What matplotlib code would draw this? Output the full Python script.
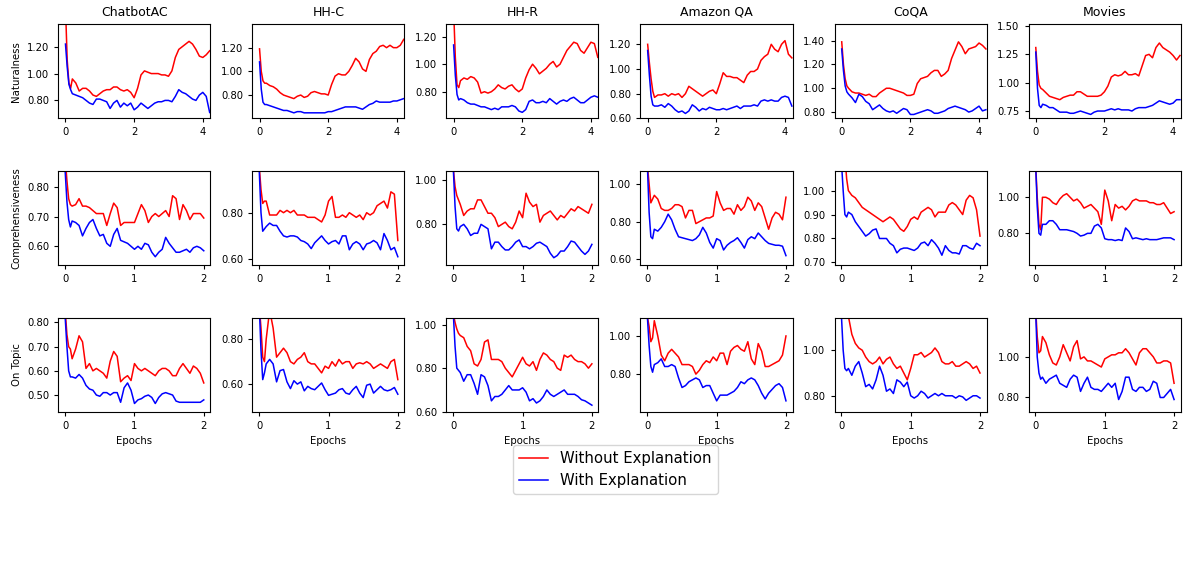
import matplotlib
matplotlib.use("Agg")
import matplotlib.pyplot as plt
from matplotlib.ticker import FormatStrFormatter

DATASETS = ["ChatbotAC", "HH-C", "HH-R", "Amazon QA", "CoQA", "Movies"]
METRICS = ["Naturalness", "Comprehensiveness", "On Topic"]

# epoch grid for the naturalness row (runs over ~4.2 epochs)
EPOCHS_LONG = [0, 0.05, 0.1, 0.15,
               0.2, 0.3, 0.4, 0.5, 0.6, 0.7, 0.8, 0.9, 1.0, 1.1,
               1.2, 1.3, 1.4, 1.5, 1.6, 1.7, 1.8, 1.9, 2.0, 2.1,
               2.2, 2.3, 2.4, 2.5, 2.6, 2.7, 2.8, 2.9, 3.0, 3.1,
               3.2, 3.3, 3.4, 3.5, 3.6, 3.7, 3.8, 3.9, 4.0, 4.1, 4.2]

# epoch grid for the other two rows (2 epochs)
EPOCHS_SHORT = [0, 0.025, 0.05, 0.075, 0.1,
                0.15, 0.2, 0.25, 0.3, 0.35, 0.4, 0.45, 0.5, 0.55, 0.6,
                0.65, 0.7, 0.75, 0.8, 0.85, 0.9, 0.95, 1.0, 1.05, 1.1,
                1.15, 1.2, 1.25, 1.3, 1.35, 1.4, 1.45, 1.5, 1.55, 1.6,
                1.65, 1.7, 1.75, 1.8, 1.85, 1.9, 1.95, 2.0]

# ---- Naturalness: without (wo) / with (w) explanation ----
nat_chatbot_wo = [1.50, 1.10, 0.93, 0.89,
                  0.96, 0.93, 0.87, 0.89, 0.89, 0.87, 0.84, 0.83, 0.85, 0.87,
                  0.88, 0.88, 0.90, 0.90, 0.88, 0.87, 0.88, 0.86, 0.82, 0.89,
                  0.99, 1.02, 1.01, 1.00, 1.00, 1.00, 0.99, 0.99, 0.98, 1.02,
                  1.12, 1.18, 1.20, 1.22, 1.24, 1.22, 1.18, 1.13, 1.12, 1.14, 1.17]
nat_chatbot_w = [1.22, 1.05, 0.92, 0.88,
                 0.85, 0.84, 0.83, 0.82, 0.80, 0.78, 0.77, 0.81, 0.81, 0.80,
                 0.79, 0.74, 0.78, 0.80, 0.75, 0.78, 0.76, 0.78, 0.73, 0.75,
                 0.78, 0.76, 0.74, 0.76, 0.78, 0.79, 0.79, 0.80, 0.80, 0.79,
                 0.83, 0.88, 0.86, 0.85, 0.83, 0.81, 0.80, 0.84, 0.86, 0.83, 0.71]
nat_hhc_wo = [1.19, 1.00, 0.92, 0.90,
              0.90, 0.88, 0.87, 0.85, 0.82, 0.80, 0.79, 0.78, 0.77, 0.79,
              0.80, 0.78, 0.79, 0.82, 0.83, 0.82, 0.81, 0.81, 0.80, 0.89,
              0.96, 0.98, 0.97, 0.97, 1.00, 1.05, 1.11, 1.08, 1.02, 1.00,
              1.10, 1.15, 1.17, 1.21, 1.22, 1.20, 1.22, 1.20, 1.20, 1.22, 1.27]
nat_hhc_w = [1.08, 0.85, 0.74, 0.72,
             0.72, 0.71, 0.70, 0.69, 0.68, 0.67, 0.67, 0.66, 0.65, 0.66,
             0.66, 0.65, 0.65, 0.65, 0.65, 0.65, 0.65, 0.65, 0.66, 0.66,
             0.67, 0.68, 0.69, 0.70, 0.70, 0.70, 0.70, 0.69, 0.68, 0.70,
             0.72, 0.73, 0.75, 0.74, 0.74, 0.74, 0.74, 0.75, 0.75, 0.76, 0.77]
nat_hhr_wo = [1.40, 1.05, 0.85, 0.83,
              0.88, 0.90, 0.89, 0.91, 0.90, 0.87, 0.79, 0.80, 0.79, 0.80,
              0.82, 0.85, 0.83, 0.82, 0.84, 0.85, 0.82, 0.80, 0.82, 0.90,
              0.96, 1.00, 0.97, 0.93, 0.95, 0.97, 1.00, 1.02, 0.98, 1.00,
              1.05, 1.10, 1.13, 1.16, 1.15, 1.10, 1.08, 1.12, 1.16, 1.15, 1.05]
nat_hhr_w = [1.14, 0.92, 0.78, 0.74,
             0.75, 0.74, 0.72, 0.71, 0.71, 0.70, 0.69, 0.69, 0.68, 0.67,
             0.68, 0.67, 0.69, 0.69, 0.69, 0.70, 0.69, 0.66, 0.65, 0.67,
             0.73, 0.74, 0.72, 0.72, 0.73, 0.72, 0.75, 0.73, 0.71, 0.73,
             0.74, 0.73, 0.75, 0.76, 0.74, 0.72, 0.72, 0.74, 0.76, 0.77, 0.76]
nat_amazon_wo = [1.20, 1.05, 0.92, 0.82,
                 0.77, 0.79, 0.79, 0.80, 0.78, 0.80, 0.79, 0.80, 0.77, 0.80,
                 0.86, 0.84, 0.82, 0.80, 0.78, 0.80, 0.82, 0.83, 0.80, 0.88,
                 0.97, 0.94, 0.94, 0.93, 0.93, 0.91, 0.89, 0.95, 0.98, 0.98,
                 1.00, 1.07, 1.10, 1.12, 1.20, 1.16, 1.14, 1.20, 1.23, 1.12, 1.09]
nat_amazon_w = [1.15, 0.95, 0.78, 0.71,
                0.70, 0.70, 0.71, 0.69, 0.72, 0.70, 0.67, 0.65, 0.66, 0.64,
                0.66, 0.71, 0.69, 0.66, 0.68, 0.67, 0.69, 0.68, 0.67, 0.67,
                0.68, 0.67, 0.68, 0.69, 0.70, 0.68, 0.70, 0.70, 0.70, 0.71,
                0.70, 0.74, 0.75, 0.74, 0.75, 0.74, 0.74, 0.77, 0.78, 0.77, 0.70]
nat_coqa_wo = [1.39, 1.20, 1.08, 1.02,
               1.00, 0.97, 0.96, 0.96, 0.95, 0.94, 0.95, 0.93, 0.93, 0.96,
               0.98, 1.00, 1.00, 0.99, 0.98, 0.97, 0.96, 0.94, 0.94, 0.95,
               1.04, 1.08, 1.09, 1.10, 1.13, 1.15, 1.15, 1.10, 1.12, 1.15,
               1.25, 1.32, 1.39, 1.35, 1.29, 1.33, 1.34, 1.35, 1.38, 1.36, 1.33]
nat_coqa_w = [1.33, 1.15, 1.02, 0.97,
              0.95, 0.92, 0.88, 0.95, 0.93, 0.89, 0.87, 0.82, 0.84, 0.86,
              0.83, 0.81, 0.80, 0.81, 0.79, 0.81, 0.83, 0.82, 0.78, 0.78,
              0.79, 0.80, 0.81, 0.82, 0.81, 0.79, 0.79, 0.80, 0.81, 0.83,
              0.84, 0.85, 0.84, 0.83, 0.82, 0.80, 0.81, 0.83, 0.85, 0.81, 0.82]
nat_movies_wo = [1.31, 1.10, 0.98, 0.95,
                 0.94, 0.91, 0.88, 0.87, 0.86, 0.85, 0.87, 0.88, 0.89, 0.89,
                 0.92, 0.92, 0.90, 0.88, 0.88, 0.88, 0.88, 0.89, 0.92, 0.97,
                 1.05, 1.07, 1.06, 1.07, 1.10, 1.07, 1.07, 1.08, 1.06, 1.15,
                 1.24, 1.25, 1.22, 1.31, 1.35, 1.31, 1.29, 1.27, 1.24, 1.20, 1.24]
nat_movies_w = [1.27, 0.95, 0.80, 0.78,
                0.81, 0.80, 0.78, 0.78, 0.76, 0.74, 0.74, 0.74, 0.73, 0.73,
                0.74, 0.75, 0.74, 0.73, 0.72, 0.74, 0.75, 0.75, 0.75, 0.76,
                0.77, 0.76, 0.77, 0.76, 0.76, 0.76, 0.75, 0.77, 0.78, 0.78,
                0.78, 0.79, 0.80, 0.82, 0.84, 0.83, 0.82, 0.81, 0.82, 0.85, 0.85]

# ---- Comprehensiveness ----
comp_chatbot_wo = [0.90, 0.82, 0.76, 0.74, 0.735,
                   0.74, 0.76, 0.735, 0.735, 0.73, 0.72, 0.71, 0.71, 0.71, 0.67,
                   0.71, 0.745, 0.73, 0.67, 0.68, 0.68, 0.68, 0.68, 0.71, 0.74,
                   0.72, 0.68, 0.70, 0.71, 0.70, 0.71, 0.72, 0.70, 0.77, 0.76,
                   0.69, 0.74, 0.72, 0.69, 0.71, 0.71, 0.71, 0.695]
comp_chatbot_w = [0.85, 0.75, 0.69, 0.665, 0.685,
                  0.68, 0.67, 0.635, 0.66, 0.68, 0.69, 0.66, 0.635, 0.64, 0.61,
                  0.60, 0.64, 0.66, 0.62, 0.615, 0.61, 0.60, 0.59, 0.60, 0.59,
                  0.61, 0.605, 0.58, 0.565, 0.58, 0.59, 0.63, 0.61, 0.595, 0.58,
                  0.58, 0.585, 0.59, 0.58, 0.595, 0.60, 0.595, 0.585]
comp_hhc_wo = [1.00, 0.90, 0.84, 0.85, 0.85,
               0.79, 0.79, 0.79, 0.81, 0.80, 0.81, 0.80, 0.81, 0.79, 0.79,
               0.79, 0.78, 0.78, 0.78, 0.77, 0.76, 0.79, 0.85, 0.87, 0.78,
               0.78, 0.79, 0.78, 0.80, 0.79, 0.78, 0.79, 0.77, 0.80, 0.79,
               0.80, 0.83, 0.84, 0.85, 0.82, 0.89, 0.88, 0.68]
comp_hhc_w = [0.98, 0.80, 0.72, 0.73, 0.74,
              0.755, 0.745, 0.745, 0.72, 0.70, 0.695, 0.70, 0.70, 0.695, 0.68,
              0.675, 0.665, 0.645, 0.67, 0.685, 0.70, 0.68, 0.665, 0.675, 0.68,
              0.665, 0.70, 0.70, 0.64, 0.665, 0.675, 0.665, 0.64, 0.665, 0.67,
              0.68, 0.67, 0.64, 0.71, 0.68, 0.64, 0.65, 0.61]
comp_hhr_wo = [1.05, 0.97, 0.93, 0.91, 0.89,
               0.84, 0.86, 0.87, 0.87, 0.91, 0.91, 0.88, 0.85, 0.85, 0.83,
               0.79, 0.80, 0.81, 0.79, 0.78, 0.81, 0.86, 0.83, 0.94, 0.90,
               0.88, 0.89, 0.81, 0.84, 0.85, 0.86, 0.84, 0.82, 0.84, 0.83,
               0.85, 0.87, 0.86, 0.88, 0.87, 0.86, 0.85, 0.89]
comp_hhr_w = [1.05, 0.88, 0.78, 0.77, 0.79,
              0.80, 0.78, 0.75, 0.76, 0.76, 0.80, 0.79, 0.78, 0.69, 0.72,
              0.72, 0.70, 0.685, 0.685, 0.70, 0.72, 0.73, 0.70, 0.70, 0.69,
              0.70, 0.715, 0.72, 0.71, 0.70, 0.67, 0.65, 0.66, 0.68, 0.68,
              0.70, 0.725, 0.72, 0.70, 0.68, 0.665, 0.68, 0.71]
comp_amazon_wo = [1.10, 1.00, 0.90, 0.92, 0.94,
                  0.92, 0.87, 0.86, 0.86, 0.87, 0.89, 0.89, 0.88, 0.82, 0.86,
                  0.86, 0.79, 0.80, 0.81, 0.82, 0.82, 0.83, 0.96, 0.90, 0.86,
                  0.87, 0.87, 0.84, 0.89, 0.86, 0.88, 0.93, 0.91, 0.86, 0.90,
                  0.88, 0.82, 0.76, 0.82, 0.85, 0.84, 0.81, 0.93]
comp_amazon_w = [1.10, 0.85, 0.72, 0.71, 0.76,
                 0.75, 0.77, 0.80, 0.84, 0.81, 0.76, 0.72, 0.715, 0.71, 0.705,
                 0.70, 0.71, 0.73, 0.77, 0.74, 0.69, 0.66, 0.71, 0.70, 0.65,
                 0.675, 0.69, 0.70, 0.715, 0.69, 0.66, 0.705, 0.72, 0.71, 0.74,
                 0.72, 0.70, 0.685, 0.68, 0.675, 0.675, 0.67, 0.62]
comp_coqa_wo = [1.30, 1.20, 1.15, 1.05, 1.00,
                0.98, 0.97, 0.95, 0.93, 0.92, 0.91, 0.90, 0.89, 0.88, 0.87,
                0.88, 0.89, 0.88, 0.86, 0.84, 0.83, 0.85, 0.88, 0.89, 0.88,
                0.91, 0.92, 0.93, 0.92, 0.89, 0.91, 0.91, 0.91, 0.94, 0.95,
                0.94, 0.92, 0.90, 0.96, 0.98, 0.97, 0.92, 0.81]
comp_coqa_w = [1.12, 1.00, 0.90, 0.89, 0.91,
               0.90, 0.87, 0.85, 0.83, 0.81, 0.82, 0.835, 0.84, 0.80, 0.80,
               0.80, 0.78, 0.77, 0.74, 0.755, 0.76, 0.76, 0.755, 0.75, 0.76,
               0.78, 0.785, 0.77, 0.795, 0.78, 0.76, 0.73, 0.77, 0.75, 0.74,
               0.74, 0.735, 0.77, 0.77, 0.76, 0.755, 0.78, 0.77]
comp_movies_wo = [1.20, 1.00, 0.85, 0.82, 1.00,
                  1.00, 0.99, 0.97, 0.96, 0.99, 1.01, 1.02, 1.00, 0.98, 0.99,
                  0.97, 0.94, 0.95, 0.96, 0.94, 0.92, 0.85, 1.04, 0.98, 0.87,
                  0.96, 0.94, 0.95, 0.93, 0.95, 0.98, 0.99, 0.98, 0.98, 0.98,
                  0.97, 0.97, 0.96, 0.96, 0.97, 0.94, 0.91, 0.92]
comp_movies_w = [1.20, 0.95, 0.80, 0.79, 0.85,
                 0.85, 0.87, 0.87, 0.85, 0.82, 0.82, 0.82, 0.815, 0.81, 0.80,
                 0.785, 0.79, 0.80, 0.80, 0.84, 0.85, 0.83, 0.77, 0.765, 0.765,
                 0.76, 0.765, 0.76, 0.83, 0.81, 0.77, 0.775, 0.77, 0.765, 0.77,
                 0.765, 0.765, 0.765, 0.77, 0.775, 0.775, 0.775, 0.765]

# ---- On Topic ----
ot_chatbot_wo = [0.85, 0.75, 0.70, 0.69, 0.65,
                 0.69, 0.745, 0.72, 0.61, 0.63, 0.60, 0.61, 0.60, 0.59, 0.57,
                 0.64, 0.68, 0.66, 0.555, 0.57, 0.58, 0.56, 0.63, 0.61, 0.60,
                 0.61, 0.60, 0.59, 0.58, 0.60, 0.61, 0.61, 0.60, 0.58, 0.58,
                 0.61, 0.63, 0.61, 0.59, 0.62, 0.61, 0.59, 0.55]
ot_chatbot_w = [0.82, 0.70, 0.60, 0.575, 0.575,
                0.57, 0.585, 0.57, 0.54, 0.525, 0.52, 0.50, 0.495, 0.51, 0.51,
                0.50, 0.51, 0.51, 0.47, 0.53, 0.55, 0.52, 0.465, 0.48, 0.485,
                0.495, 0.50, 0.49, 0.465, 0.49, 0.505, 0.51, 0.505, 0.50, 0.475,
                0.47, 0.47, 0.47, 0.47, 0.47, 0.47, 0.47, 0.48]
ot_hhc_wo = [0.95, 0.85, 0.72, 0.70, 0.80,
             0.93, 0.85, 0.72, 0.74, 0.76, 0.74, 0.70, 0.69, 0.71, 0.72,
             0.74, 0.70, 0.69, 0.69, 0.67, 0.65, 0.68, 0.67, 0.70, 0.68,
             0.71, 0.69, 0.70, 0.70, 0.67, 0.69, 0.695, 0.69, 0.70, 0.69,
             0.67, 0.68, 0.69, 0.68, 0.67, 0.70, 0.71, 0.62]
ot_hhc_w = [0.95, 0.75, 0.62, 0.65, 0.69,
            0.71, 0.69, 0.61, 0.66, 0.665, 0.61, 0.58, 0.615, 0.60, 0.61,
            0.57, 0.59, 0.58, 0.575, 0.59, 0.605, 0.575, 0.55, 0.555, 0.56,
            0.575, 0.58, 0.56, 0.555, 0.575, 0.59, 0.56, 0.54, 0.595, 0.60,
            0.56, 0.575, 0.59, 0.575, 0.57, 0.575, 0.585, 0.555]
ot_hhr_wo = [1.05, 1.01, 0.98, 0.96, 0.95,
             0.94, 0.90, 0.88, 0.82, 0.81, 0.84, 0.92, 0.93, 0.84, 0.84,
             0.84, 0.83, 0.80, 0.78, 0.76, 0.79, 0.82, 0.85, 0.82, 0.81,
             0.83, 0.79, 0.84, 0.87, 0.86, 0.84, 0.83, 0.80, 0.79, 0.86,
             0.85, 0.86, 0.84, 0.83, 0.83, 0.82, 0.80, 0.82]
ot_hhr_w = [1.05, 0.90, 0.80, 0.79, 0.78,
            0.74, 0.77, 0.77, 0.73, 0.68, 0.77, 0.76, 0.72, 0.65, 0.67,
            0.67, 0.68, 0.70, 0.72, 0.70, 0.70, 0.70, 0.71, 0.69, 0.65,
            0.66, 0.64, 0.65, 0.67, 0.70, 0.68, 0.67, 0.68, 0.69, 0.70,
            0.68, 0.68, 0.68, 0.67, 0.655, 0.65, 0.64, 0.63]
ot_amazon_wo = [1.10, 1.05, 0.97, 0.99, 1.08,
                1.00, 0.90, 0.87, 0.91, 0.93, 0.91, 0.89, 0.85, 0.85, 0.85,
                0.84, 0.80, 0.82, 0.85, 0.87, 0.86, 0.89, 0.87, 0.91, 0.91,
                0.85, 0.92, 0.94, 0.95, 0.93, 0.92, 0.97, 0.88, 0.85, 0.96,
                0.92, 0.84, 0.84, 0.85, 0.86, 0.87, 0.90, 1.00]
ot_amazon_w = [1.10, 0.95, 0.84, 0.81, 0.85,
               0.86, 0.88, 0.84, 0.84, 0.85, 0.84, 0.78, 0.73, 0.74, 0.76,
               0.77, 0.78, 0.77, 0.73, 0.74, 0.74, 0.70, 0.66, 0.69, 0.69,
               0.69, 0.70, 0.71, 0.73, 0.76, 0.75, 0.77, 0.78, 0.77, 0.74,
               0.70, 0.67, 0.70, 0.72, 0.74, 0.75, 0.73, 0.66]
ot_coqa_wo = [1.30, 1.25, 1.20, 1.17, 1.15,
              1.07, 1.03, 1.01, 1.00, 0.97, 0.95, 0.94, 0.95, 0.97, 0.94,
              0.96, 0.97, 0.94, 0.92, 0.93, 0.90, 0.87, 0.92, 0.98, 0.98,
              0.99, 0.97, 0.98, 0.99, 1.01, 0.99, 0.95, 0.94, 0.94, 0.95,
              0.93, 0.93, 0.94, 0.95, 0.94, 0.92, 0.93, 0.90]
ot_coqa_w = [1.15, 1.00, 0.92, 0.91, 0.92,
             0.89, 0.93, 0.95, 0.90, 0.84, 0.85, 0.83, 0.87, 0.93, 0.89,
             0.82, 0.83, 0.81, 0.87, 0.86, 0.84, 0.86, 0.80, 0.79, 0.80,
             0.82, 0.81, 0.79, 0.80, 0.81, 0.80, 0.81, 0.80, 0.80, 0.80,
             0.79, 0.80, 0.795, 0.78, 0.79, 0.80, 0.80, 0.79]
ot_movies_wo = [1.25, 1.10, 1.02, 1.03, 1.10,
                1.07, 1.01, 0.97, 0.96, 1.00, 1.06, 1.02, 0.98, 1.05, 1.08,
                0.99, 1.00, 0.98, 0.98, 0.97, 0.96, 0.95, 0.99, 1.00, 1.01,
                1.01, 1.02, 1.02, 1.04, 1.02, 0.99, 0.96, 1.02, 1.04, 1.04,
                1.02, 1.00, 0.97, 0.97, 0.98, 0.98, 0.97, 0.87]
ot_movies_w = [1.25, 1.00, 0.92, 0.89, 0.90,
               0.87, 0.89, 0.90, 0.91, 0.87, 0.86, 0.85, 0.89, 0.91, 0.90,
               0.83, 0.87, 0.90, 0.85, 0.84, 0.84, 0.83, 0.85, 0.87, 0.85,
               0.87, 0.79, 0.83, 0.90, 0.90, 0.84, 0.83, 0.85, 0.85, 0.83,
               0.84, 0.88, 0.87, 0.80, 0.80, 0.82, 0.84, 0.79]

# y limits and y ticks, row by row
YLIMS = [
    [(0.666, 1.367), (0.603, 1.397), (0.606, 1.29), (0.60, 1.362), (0.747, 1.537), (0.685, 1.515)],
    [(0.537, 0.853), (0.574, 0.98), (0.617, 1.04), (0.57, 1.069), (0.689, 1.082), (0.624, 1.146)],
    [(0.431, 0.82), (0.477, 0.896), (0.60, 1.032), (0.603, 1.096), (0.73, 1.143), (0.73, 1.193)],
]
YTICKS = [
    [[0.8, 1.0, 1.2], [0.8, 1.0, 1.2], [0.8, 1.0, 1.2], [0.6, 0.8, 1.0, 1.2], [0.8, 1.0, 1.2, 1.4], [0.75, 1.0, 1.25, 1.5]],
    [[0.6, 0.7, 0.8], [0.6, 0.8], [0.8, 1.0], [0.6, 0.8, 1.0], [0.7, 0.8, 0.9, 1.0], [0.8, 1.0]],
    [[0.5, 0.6, 0.7, 0.8], [0.6, 0.8], [0.6, 0.8, 1.0], [0.8, 1.0], [0.8, 1.0], [0.8, 1.0]],
]

without_rows = [
    [nat_chatbot_wo, nat_hhc_wo, nat_hhr_wo, nat_amazon_wo, nat_coqa_wo, nat_movies_wo],
    [comp_chatbot_wo, comp_hhc_wo, comp_hhr_wo, comp_amazon_wo, comp_coqa_wo, comp_movies_wo],
    [ot_chatbot_wo, ot_hhc_wo, ot_hhr_wo, ot_amazon_wo, ot_coqa_wo, ot_movies_wo],
]
with_rows = [
    [nat_chatbot_w, nat_hhc_w, nat_hhr_w, nat_amazon_w, nat_coqa_w, nat_movies_w],
    [comp_chatbot_w, comp_hhc_w, comp_hhr_w, comp_amazon_w, comp_coqa_w, comp_movies_w],
    [ot_chatbot_w, ot_hhc_w, ot_hhr_w, ot_amazon_w, ot_coqa_w, ot_movies_w],
]

fig, axes = plt.subplots(3, 6, figsize=(11.99, 5.63), dpi=100)
fig.subplots_adjust(left=0.0486, right=0.9847, top=0.9568, bottom=0.2687,
                    wspace=0.276, hspace=0.559)

for r in range(3):
    epochs = EPOCHS_LONG if r == 0 else EPOCHS_SHORT
    for c in range(6):
        ax = axes[r, c]
        ax.plot(epochs, without_rows[r][c], color="red", lw=1.1,
                label="Without Explanation")
        ax.plot(epochs, with_rows[r][c], color="blue", lw=1.1,
                label="With Explanation")
        if r == 0:
            ax.set_xlim(-0.21, 4.22)
            ax.set_xticks([0, 2, 4])
            ax.set_title(DATASETS[c], fontsize=9)
        else:
            ax.set_xlim(-0.1, 2.095)
            ax.set_xticks([0, 1, 2])
        ax.set_ylim(*YLIMS[r][c])
        ax.set_yticks(YTICKS[r][c])
        ax.yaxis.set_major_formatter(FormatStrFormatter("%.2f"))
        ax.tick_params(labelsize=7.2, length=3)
        if c == 0:
            ax.set_ylabel(METRICS[r], fontsize=7.3)
        if r == 2:
            ax.set_xlabel("Epochs", fontsize=7.3)

handles, labels = axes[0, 0].get_legend_handles_labels()
fig.legend(handles, labels, loc="upper center", bbox_to_anchor=(0.513, 0.223),
           fontsize=10.7, ncol=1)

fig.savefig("out.png", dpi=100)
